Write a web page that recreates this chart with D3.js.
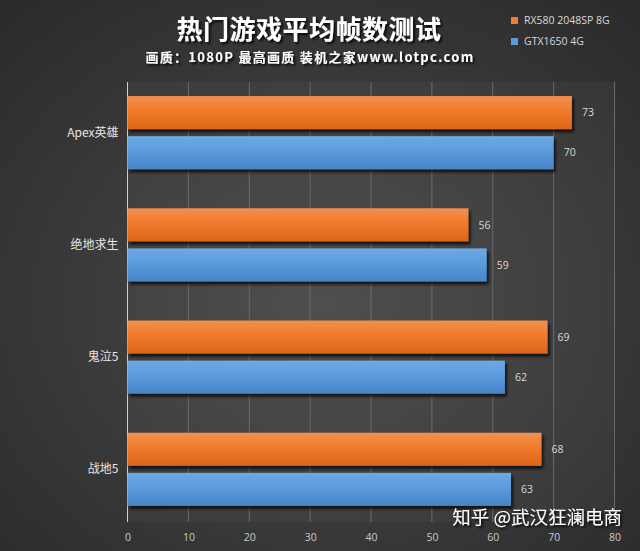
<!DOCTYPE html>
<html><head><meta charset="utf-8">
<script src="https://cdn.jsdelivr.net/npm/d3@7"></script>
<style>html,body{margin:0;padding:0;background:#333;}svg{display:block;}</style>
</head><body>
<script>
const categories = ["Apex英雄", "绝地求生", "鬼泣5", "战地5"];
const seriesNames = ["RX580 2048SP 8G", "GTX1650 4G"];
const rx580 = [73, 56, 69, 68];
const gtx1650 = [70, 59, 62, 63];
const xTicks = [0, 10, 20, 30, 40, 50, 60, 70, 80];
const title = "热门游戏平均帧数测试";
const subtitle = "画质：1080P 最高画质 装机之家www.lotpc.com";
const watermark = "知乎 @武汉狂澜电商";

const W = 640, H = 551;
const svg = d3.select("body").append("svg").attr("width", W).attr("height", H);
const defs = svg.append("defs");

const bg = defs.append("radialGradient").attr("id", "bg").attr("cx", "50%").attr("cy", "55%").attr("r", "70%");
bg.append("stop").attr("offset", "0%").attr("stop-color", "#4a4a4a");
bg.append("stop").attr("offset", "100%").attr("stop-color", "#2c2c2c");
svg.append("rect").attr("width", W).attr("height", H).attr("fill", "url(#bg)");

const og = defs.append("linearGradient").attr("id", "og").attr("x1", 0).attr("x2", 0).attr("y1", 0).attr("y2", 1);
og.append("stop").attr("offset", "0%").attr("stop-color", "#f39050");
og.append("stop").attr("offset", "45%").attr("stop-color", "#f07a2a");
og.append("stop").attr("offset", "100%").attr("stop-color", "#dc6518");
const bgr = defs.append("linearGradient").attr("id", "bgr").attr("x1", 0).attr("x2", 0).attr("y1", 0).attr("y2", 1);
bgr.append("stop").attr("offset", "0%").attr("stop-color", "#6eaae2");
bgr.append("stop").attr("offset", "45%").attr("stop-color", "#5b9bdb");
bgr.append("stop").attr("offset", "100%").attr("stop-color", "#4584c8");
const fills = ["url(#og)", "url(#bgr)"];
const solid = ["#ef7b2c", "#5b9bd8"];

const sh = defs.append("filter").attr("id", "sh").attr("x", "-5%").attr("y", "-20%").attr("width", "115%").attr("height", "160%");
sh.append("feDropShadow").attr("dx", 2).attr("dy", 3).attr("stdDeviation", 1.5).attr("flood-color", "#000").attr("flood-opacity", 0.75);
const tsh = defs.append("filter").attr("id", "tsh").attr("x", "-5%").attr("y", "-20%").attr("width", "115%").attr("height", "160%");
tsh.append("feDropShadow").attr("dx", 2).attr("dy", 2).attr("stdDeviation", 1).attr("flood-color", "#000").attr("flood-opacity", 0.8);

const m = {left: 127.5, top: 77};
const x = d3.scaleLinear().domain([0, 80]).range([m.left, 614.5]);
const y = d3.scaleBand().domain(categories).range([m.top, 525]).paddingInner(0.348).paddingOuter(0.17);
const y1 = d3.scaleBand().domain([0, 1]).range([0, y.bandwidth()]).paddingInner(0.175);

svg.append("rect").attr("x", m.left).attr("y", 82).attr("width", x(80) - m.left).attr("height", 440)
  .attr("fill", "#ffffff").attr("opacity", 0.03);

svg.append("g").selectAll("line").data(xTicks.slice(1)).join("line")
  .attr("x1", d => x(d)).attr("x2", d => x(d)).attr("y1", 82).attr("y2", 522)
  .attr("stroke", "#6a6a6a").attr("stroke-width", 1);

const xa = svg.append("g").attr("transform", "translate(0,522)")
  .call(d3.axisBottom(x).tickValues(xTicks).tickSize(0).tickPadding(12));
xa.select(".domain").remove();
xa.selectAll("text").attr("fill", "#c8c8c8").attr("font-family", "'Open Sans', 'Noto Sans', sans-serif").attr("font-size", 10.5);
svg.append("line").attr("x1", x(0)).attr("x2", x(0)).attr("y1", 82).attr("y2", 522).attr("stroke", "#d0d0d0").attr("stroke-width", 1);

const ya = svg.append("g").attr("transform", `translate(${m.left - 9},0)`)
  .call(d3.axisLeft(y).tickSize(0).tickPadding(0));
ya.select(".domain").remove();
ya.selectAll("text").attr("fill", "#e6e6e6").attr("font-family", "'Noto Sans CJK SC', sans-serif").attr("font-size", 12);

const rows = categories.map((c, i) => ({c, vals: [rx580[i], gtx1650[i]]}));
const g = svg.append("g");
rows.forEach(r => {
  r.vals.forEach((v, k) => {
    const yy = y(r.c) + y1(k);
    g.append("rect").attr("x", x(0)).attr("y", yy).attr("width", x(v) - x(0)).attr("height", y1.bandwidth())
      .attr("fill", fills[k]).attr("filter", "url(#sh)");
    g.append("text").attr("x", x(v) + 10).attr("y", yy + y1.bandwidth() / 2).attr("dy", "0.35em")
      .attr("fill", "#d8d8d8").attr("font-family", "'Open Sans', 'Noto Sans', sans-serif").attr("font-size", 10.5)
      .text(v);
  });
});

svg.append("text").attr("x", 309).attr("y", 39).attr("text-anchor", "middle")
  .attr("fill", "#ffffff").attr("font-family", "'Noto Sans CJK SC', sans-serif").attr("font-weight", "bold").attr("font-size", 26)
  .attr("letter-spacing", 0.5).attr("filter", "url(#tsh)").text(title);
svg.append("text").attr("x", 310).attr("y", 62).attr("text-anchor", "middle")
  .attr("fill", "#ffffff").attr("font-family", "'Noto Sans CJK SC', sans-serif").attr("font-weight", "bold").attr("font-size", 13)
  .attr("letter-spacing", 1.3).attr("filter", "url(#tsh)").text(subtitle);

seriesNames.forEach((n, k) => {
  const ly = 17 + k * 21;
  svg.append("rect").attr("x", 511).attr("y", ly).attr("width", 7).attr("height", 7).attr("fill", solid[k]);
  svg.append("text").attr("x", 524).attr("y", ly + 7).attr("fill", "#d8d8d8")
    .attr("font-family", "'Open Sans', 'Noto Sans', sans-serif").attr("font-size", 10.5).text(n);
});

svg.append("text").attr("x", 622).attr("y", 524).attr("text-anchor", "end")
  .attr("fill", "#ffffff").attr("font-family", "'Noto Sans CJK SC', sans-serif").attr("font-size", 18.5)
  .attr("filter", "url(#tsh)").text(watermark);
</script>
</body></html>
